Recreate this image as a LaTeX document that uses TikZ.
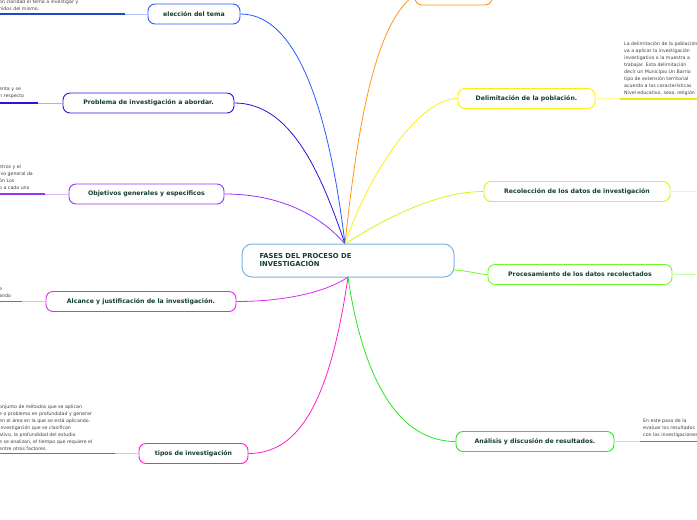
\documentclass[tikz,border=0pt]{standalone}
\usepackage{fontspec}
\setmainfont{DejaVu Sans}
\definecolor{cA}{RGB}{40,90,255}
\definecolor{cB}{RGB}{40,20,220}
\definecolor{cC}{RGB}{150,50,255}
\definecolor{cD}{RGB}{225,40,240}
\definecolor{cE}{RGB}{255,30,200}
\definecolor{cF}{RGB}{255,150,20}
\definecolor{cG}{RGB}{250,240,20}
\definecolor{cH}{RGB}{200,250,20}
\definecolor{cI}{RGB}{110,250,40}
\definecolor{cJ}{RGB}{40,230,30}
\definecolor{cK}{RGB}{120,180,230}
\definecolor{ctext}{RGB}{20,60,50}
\begin{document}
\begin{tikzpicture}[x=1pt,y=-1pt,
 br/.style={draw=#1,line width=0.9pt,rounded corners=7pt,fill=white,font=\bfseries\fontsize{6.2}{7}\selectfont,text=ctext,inner xsep=8pt,minimum height=20pt},
 note/.style={font=\fontsize{4.7}{7}\selectfont,text=black!75,align=left,inner sep=0pt},
 con/.style={line width=0.8pt,#1}]
\useasboundingbox (0,0) rectangle (697,520);
\clip (0,0) rectangle (697,520);
% central
\node[draw=cK,line width=1pt,rounded corners=10pt,minimum width=212pt,minimum height=33pt,fill=white] (c) at (348,260.5) {};
\node[font=\bfseries\fontsize{6.8}{8}\selectfont,align=left,anchor=west,text=ctext] (ct) at (256,260.5) {FASES DEL PROCESO DE\\INVESTIGACIÓN};
\coordinate (ctop) at (345,244); \coordinate (cbot) at (348,277); \coordinate (ce) at (454,270);
% left nodes
\node[br=cA,minimum width=92pt] (n1) at (194,14) {elección del tema};
\node[br=cB,minimum width=171pt] (n2) at (148.5,103) {Problema de investigación a abordar.};
\node[br=cC,minimum width=155pt] (n3) at (146.5,194) {Objetivos generales y especificos};
\node[br=cD,minimum width=190pt] (n4) at (141,301.5) {Alcance y justificación de la investigación.};
\node[br=cE,minimum width=109pt] (n5) at (193.5,453.5) {tipos de investigación};
% right nodes
\node[br=cF,minimum width=77pt] (n6) at (453.5,-5) {};
\node[br=cG,minimum width=137pt] (n7) at (526.5,98.5) {Delimitación de la población.};
\node[br=cH,minimum width=186pt] (n8) at (577,191.5) {Recolección de los datos de investigación};
\node[br=cI,minimum width=184pt] (n9) at (580,274.5) {Procesamiento de los datos recolectados};
\node[br=cJ,minimum width=158pt] (n10) at (535,441.5) {Análisis y discusión de resultados.};
% curves
\draw[con=cA] (ctop) .. controls (330,120) and (300,14) .. (n1.east);
\draw[con=cB] (ctop) .. controls (320,170) and (290,103) .. (n2.east);
\draw[con=cC] (ctop) .. controls (320,215) and (280,194) .. (n3.east);
\draw[con=cD] (cbot) .. controls (330,290) and (290,301.5) .. (n4.east);
\draw[con=cE] (cbot) .. controls (330,400) and (300,453.5) .. (n5.east);
\draw[con=cF] (ctop) .. controls (360,100) and (380,20) .. (n6.west);
\draw[con=cG] (ctop) .. controls (370,170) and (420,98.5) .. (n7.west);
\draw[con=cH] (ctop) .. controls (390,215) and (440,191.5) .. (n8.west);
\draw[con=cI] (ce) .. controls (470,271) and (480,274.5) .. (n9.west);
\draw[con=cJ] (cbot) .. controls (360,360) and (390,441.5) .. (n10.west);
% leader lines
\coordinate (l1) at (0,14); \coordinate (l2) at (0,103); \coordinate (l3) at (0,194);
\coordinate (l4) at (0,301.5); \coordinate (l5) at (0,453.5);
\draw[cA!35,line width=0.8pt] (n1.west) -- (l1); \draw[cA!80!black,line width=1.3pt] (125,14) -- (l1);
\draw[cB!35,line width=0.8pt] (n2.west) -- (l2); \draw[cB,line width=1.3pt] (38,103) -- (l2);
\draw[cC!35,line width=0.8pt] (n3.west) -- (l3); \draw[cC,line width=1.3pt] (45,194) -- (l3);
\draw[cD!35,line width=0.8pt] (n4.west) -- (l4); \draw[cD,line width=1.3pt] (22,301.5) -- (l4);
\draw[cE!35,line width=0.8pt] (n5.west) -- (l5); \draw[cE,line width=1.3pt] (115,453.5) -- (l5);
\coordinate (r7) at (697,99); \coordinate (r8) at (697,191.5); \coordinate (r9) at (697,274.5); \coordinate (r10) at (697,441.5);
\draw[cG!40,line width=0.8pt] (n7.east) -- (r7); \draw[cG!90!orange,line width=1.3pt] (620,99) -- (r7);
\draw[cH!40,line width=0.8pt] (n8.east) -- (r8);
\draw[cI!40,line width=0.8pt] (n9.east) -- (r9);
\draw[cJ!40,line width=0.8pt] (n10.east) -- (r10); \draw[cJ!80!black,line width=1.3pt] (640,441.5) -- (r10);
% notes
\node[note,anchor=south west] (t1) at (-1,11) {on claridad el tema a investigar y\\nidos del mismo.};
\node[note,anchor=south west] (t2) at (-1,99) {enta y se\\n respecto};
\node[note,anchor=south west] (t3) at (-1,190) {etros y el\\ivo general da\\ón Los\\o a cada uno};
\node[note,anchor=south west] (t4) at (-1,298) {e\\ando};
\node[note,anchor=south west] (t5) at (-1,451) {onjunto de métodos que se aplican\\e o problema en profundidad y generar\\en el área en la que se está aplicando.\\investigación que se clasifican\\ativo, la profundidad del estudio\\e se analizan, el tiempo que requiere el\\entre otros factores.};
\node[note,anchor=south west] (t7) at (624,96) {La delimitación de la población\\va a aplicar la investigación\\investigativo o la muestra a\\trabajar. Esta delimitación\\decir un Municipio Un Barrio\\tipo de extensión territorial\\acuerdo a las características\\Nivel educativo, sexo, religión};
\node[note,anchor=south west] (t10) at (643,438) {En este paso de la\\evaluar los resultados\\con las investigaciones};
\end{tikzpicture}
\end{document}
